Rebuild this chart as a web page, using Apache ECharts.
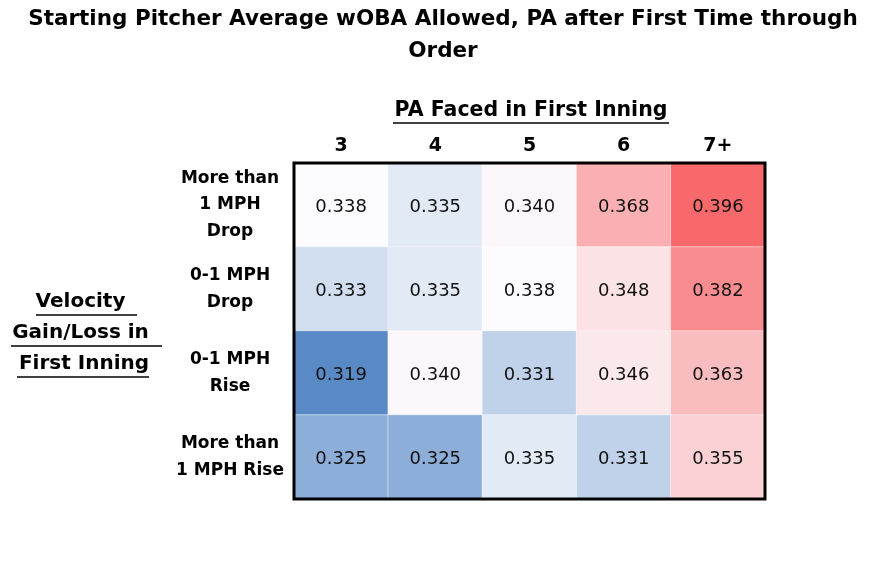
<!DOCTYPE html>
<html>
<head>
<meta charset="utf-8">
<script src="https://cdn.jsdelivr.net/npm/echarts@6/dist/echarts.min.js"></script>
<style>
html, body { margin: 0; padding: 0; background: #fff; }
#chart { width: 886px; height: 585px; }
</style>
</head>
<body>
<div id="chart"></div>
<script>
// PA faced in first inning
var paCols = ['3', '4', '5', '6', '7+'];
// velocity gain/loss buckets
var veloRows = ['More than\n1 MPH\nDrop', '0-1 MPH\nDrop', '0-1 MPH\nRise', 'More than\n1 MPH Rise'];
// wOBA allowed, one array per row
var rowDrop1 = [0.338, 0.335, 0.340, 0.368, 0.396];
var rowDrop01 = [0.333, 0.335, 0.338, 0.348, 0.382];
var rowRise01 = [0.319, 0.340, 0.331, 0.346, 0.363];
var rowRise1 = [0.325, 0.325, 0.335, 0.331, 0.355];

var allRows = [rowDrop1, rowDrop01, rowRise01, rowRise1];

// excel style 3 colour scale (min / 50th pct / max)
var flat = [];
allRows.forEach(function(r) { flat = flat.concat(r); });
var sorted = flat.slice().sort(function(a, b) { return a - b; });
var vMin = sorted[0], vMax = sorted[sorted.length - 1];
var vMid = (sorted[9] + sorted[10]) / 2;
var cLow = [90, 138, 198], cMid = [252, 252, 255], cHigh = [248, 105, 107];

function mix(a, b, t) {
	return 'rgb(' + [0, 1, 2].map(function(k) { return Math.round(a[k] + (b[k] - a[k]) * t); }).join(',') + ')';
}
function scaleColor(v) {
	if (v <= vMid) return mix(cLow, cMid, (v - vMin) / (vMid - vMin));
	return mix(cMid, cHigh, (v - vMid) / (vMax - vMid));
}

var cells = [];
for (var r = 0; r < allRows.length; r++) {
	for (var c = 0; c < paCols.length; c++) {
		cells.push({
			value: [c, r, allRows[r][c]],
			itemStyle: { color: scaleColor(allRows[r][c]) }
		});
	}
}

var chart = echarts.init(document.getElementById('chart'));
var boldFont = 'DejaVu Sans';
var ul = { stroke: '#000', lineWidth: 1.5 };

var option = {
	animation: false,
	backgroundColor: '#fff',
	title: {
		text: 'Starting Pitcher Average wOBA Allowed, PA after First Time through\nOrder',
		left: 'center',
		top: -2,
		textStyle: { fontFamily: boldFont, fontWeight: 'bold', fontSize: 21.5, lineHeight: 32, color: '#000' }
	},
	grid: {
		left: 294, right: 121, top: 163, bottom: 86,
		show: true, z: 5,
		borderColor: '#000', borderWidth: 3,
		backgroundColor: 'transparent'
	},
	xAxis: {
		type: 'category',
		position: 'top',
		data: paCols,
		axisLine: { show: false },
		axisTick: { show: false },
		splitLine: { show: false },
		axisLabel: { margin: 7, fontFamily: boldFont, fontWeight: 'bold', fontSize: 19, color: '#000' }
	},
	yAxis: {
		type: 'category',
		inverse: true,
		data: veloRows,
		axisLine: { show: false },
		axisTick: { show: false },
		splitLine: { show: false },
		axisLabel: {
			align: 'center', margin: 64,
			fontFamily: boldFont, fontWeight: 'bold', fontSize: 17, lineHeight: 26.5, color: '#000'
		}
	},
	graphic: [
		{
			type: 'text', x: 531, y: 111,
			style: {
				text: 'PA Faced in First Inning', fontFamily: boldFont, fontWeight: 'bold', fontSize: 20.5,
				fill: '#000', align: 'center', verticalAlign: 'middle'
			}
		},
		{ type: 'line', shape: { x1: 393, y1: 123, x2: 669, y2: 123 }, style: ul },
		{
			type: 'text', x: 84, y: 333,
			style: {
				text: 'Velocity \nGain/Loss in \nFirst Inning',
				fontFamily: boldFont, fontWeight: 'bold', fontSize: 20, lineHeight: 31,
				fill: '#000', align: 'center', verticalAlign: 'middle'
			}
		},
		{ type: 'line', shape: { x1: 36, y1: 315, x2: 137, y2: 315 }, style: ul },
		{ type: 'line', shape: { x1: 11, y1: 346, x2: 162, y2: 346 }, style: ul },
		{ type: 'line', shape: { x1: 17, y1: 377, x2: 149, y2: 377 }, style: ul }
	],
	series: [{
		type: 'heatmap',
		data: cells,
		itemStyle: { borderColor: 'rgba(255,255,255,0.45)', borderWidth: 1 },
		label: {
			show: true,
			offset: [0, 2],
			fontFamily: 'DejaVu Sans', fontSize: 18, color: '#111',
			formatter: function(p) { return p.value[2].toFixed(3); }
		}
	}]
};

chart.setOption(option);
</script>
</body>
</html>
